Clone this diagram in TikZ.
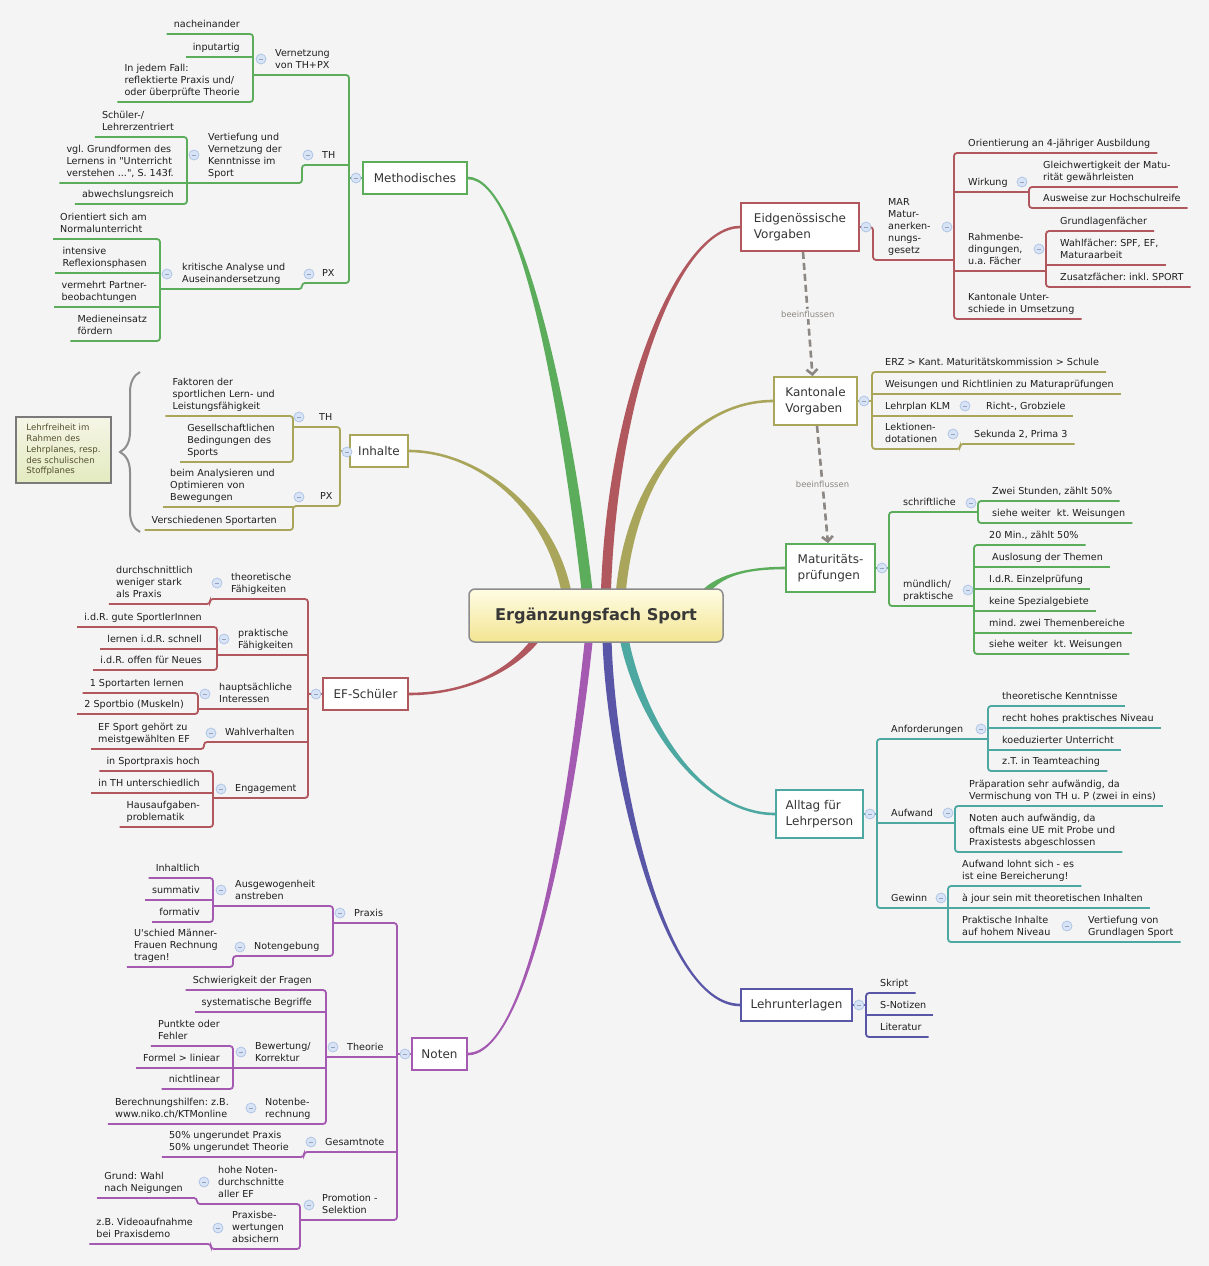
\documentclass[tikz,border=0pt]{standalone}
\usepackage{fontspec}
\setmainfont{DejaVu Sans}
\usetikzlibrary{calc,arrows.meta,positioning,decorations.pathreplacing}
\definecolor{bg}{HTML}{F4F4F4}
\definecolor{ink}{HTML}{1E1E1E}
\definecolor{boxink}{HTML}{353535}
\definecolor{grn}{HTML}{5BAD5B}
\definecolor{rdb}{HTML}{B0585E}
\definecolor{olv}{HTML}{A9A65B}
\definecolor{tea}{HTML}{4EA8A2}
\definecolor{ind}{HTML}{5956A8}
\definecolor{pur}{HTML}{A55AB2}
\definecolor{arrgray}{HTML}{8C8783}
\definecolor{bracegray}{HTML}{8E8E8E}
\definecolor{foldin}{HTML}{D8E4F6}
\definecolor{foldrim}{HTML}{ABC1E4}
\definecolor{roottop}{HTML}{FFFCE4}
\definecolor{rootbot}{HTML}{F3E592}
\definecolor{notetop}{HTML}{F5F5E6}
\definecolor{notebot}{HTML}{E3EBC0}
\newcommand\mmfont{\fontsize{9.6}{12}\selectfont}
\newcommand\fold[1]{\filldraw[fill=foldin,draw=foldrim,line width=.7pt] (#1) circle (5);
  \draw[foldrim!85!black,line width=.8pt] ($(#1)+(-2.3,0)$) -- ($(#1)+(2.3,0)$);}
\newcommand\limb[6]{\fill[#1] ($(#2)+(0,-1.3)$) .. controls ($(#3)+(0,-1.3)$) and ($(#4)+(#6,0)$) .. ($(#5)+(#6,0)$)
  -- ($(#5)-(#6,0)$) .. controls ($(#4)-(#6,0)$) and ($(#3)+(0,1.3)$) .. ($(#2)+(0,1.3)$) -- cycle;}
\pgfdeclarelayer{back}
\pgfsetlayers{back,main}
\frenchspacing
\tikzset{
  mline/.style={line width=1.8pt,rounded corners=3pt},
  lab/.style={inner ysep=0pt,align=left,font=\mmfont,text=ink,execute at end node={\rule[-6pt]{0pt}{6pt}}},
  ll/.style={lab,inner xsep=7pt,anchor=south east},
  rl/.style={lab,inner xsep=7pt,anchor=south west},
  pl/.style={lab,inner xsep=0pt,anchor=south west},
  topic/.style={draw,line width=1.8pt,fill=white,inner xsep=8pt,align=left,text=boxink,font=\fontsize{12}{16.5}\selectfont},
  rootbox/.style={draw=black!45,line width=1.5pt,rounded corners=6pt,top color=roottop,bottom color=rootbot,
    minimum width=254,minimum height=53,font=\fontsize{16.2}{19}\selectfont\bfseries,text=black!78},
  notebox/.style={draw=black!52,line width=1.8pt,top color=notetop,bottom color=notebot,align=left,inner xsep=7pt,
    minimum width=95,minimum height=66,font=\fontsize{8.6}{10.7}\selectfont,text=black!55!olive},
  infl/.style={draw=arrgray,line width=2.6pt,dash pattern=on 7pt off 4pt,-{Straight Barb[length=5pt,width=11pt]}},
  infllbl/.style={fill=bg,text=arrgray,font=\fontsize{8.4}{9}\selectfont,inner sep=1.5pt},
  brc/.style={draw=bracegray,line width=2pt,decorate,decoration={brace,amplitude=20pt}}
}
\begin{document}
\begin{tikzpicture}[x=1pt,y=-1pt]
\useasboundingbox (0,0) rectangle (1209,1266);

% centre and main topics
\node[rootbox] (root) at (596,615.5) {Ergänzungsfach Sport};
\node[topic,draw=grn,minimum width=104,minimum height=32] (meth) at (415,178) {Methodisches};
\node[topic,draw=olv,minimum width=52,minimum height=32] (inh) at (379,451) {Inhalte};
\node[topic,draw=rdb,minimum width=85,minimum height=32] (efs) at (365.5,694) {EF-Schüler};
\node[topic,draw=pur,minimum width=55,minimum height=32] (noten) at (439.5,1054) {Noten};
\node[topic,draw=rdb,minimum width=118,minimum height=48] (eidg) at (800,227) {Eidgenössische\\Vorgaben};
\node[topic,draw=olv,minimum width=83,minimum height=48] (kant) at (815.5,401) {Kantonale\\Vorgaben};
\node[topic,draw=grn,minimum width=89,minimum height=48] (matp) at (830.5,568) {Maturitäts-\\prüfungen};
\node[topic,draw=tea,minimum width=87,minimum height=48] (allt) at (819.5,814) {Alltag für\\Lehrperson};
\node[topic,draw=ind,minimum width=111,minimum height=32] (lehu) at (796.5,1005) {Lehrunterlagen};

% Methodisches
\coordinate (mB) at (349,0); \coordinate (vnB) at (253,0); \coordinate (vtB) at (187,0); \coordinate (thS) at (302,0); \coordinate (kaB) at (160,0);
\node[pl] (vern) at (275,75) {Vernetzung\\von TH+PX};
\node[ll] (nach) at (247,34) {nacheinander};
\node[ll] (inpu) at (247,57) {inputartig};
\node[ll] (jede) at (247,102) {In jedem Fall:\\reflektierte Praxis und/\\oder überprüfte Theorie};
\node[pl] (th1) at (322,165) {TH};
\node[pl] (vert) at (208,183) {Vertiefung und\\Vernetzung der\\Kenntnisse im\\Sport};
\node[ll] (schu) at (181,137) {Schüler-/\\Lehrerzentriert};
\node[ll] (vgl) at (181,183) {vgl. Grundformen des\\Lernens in \textquotedbl Unterricht\\verstehen ...\textquotedbl, S. 143f.};
\node[ll] (abwe) at (181,204) {abwechslungsreich};
\node[pl] (px1) at (322,283) {PX};
\node[pl] (krit) at (182,289) {kritische Analyse und\\Auseinandersetzung};
\node[ll] (orie) at (154,239) {Orientiert sich am\\Normalunterricht};
\node[ll] (inte) at (154,273) {intensive\\Reflexionsphasen};
\node[ll] (verm) at (154,307) {vermehrt Partner-\\beobachtungen};
\node[ll] (medi) at (154,341) {Medieneinsatz\\fördern};
\draw[mline,grn] (nach.south west) -- (vnB |- nach.south) -- (vnB |- jede.south) -- (jede.south west);
\draw[mline,grn] (inpu.south west) -- (vnB |- inpu.south);
\draw[mline,grn] (vnB |- vern.south) -- (mB |- vern.south) -- (mB |- px1.south) -- (thS |- px1.south) -- (thS |- krit.south) -- (kaB |- krit.south);
\draw[mline,grn] (mB |- th1.south) -- (thS |- th1.south) -- (thS |- vert.south) -- (vgl.south west);
\draw[mline,grn] (mB |- meth.west) -- (meth.west);
\draw[mline,grn] (schu.south west) -- (vtB |- schu.south) -- (vtB |- abwe.south) -- (abwe.south west);
\draw[mline,grn] (orie.south west) -- (kaB |- orie.south) -- (kaB |- medi.south) -- (medi.south west);
\draw[mline,grn] (inte.south west) -- (kaB |- inte.south) (verm.south west) -- (kaB |- verm.south);

% Inhalte
\coordinate (iB) at (340,0); \coordinate (itB) at (293,0);
\node[pl] (th2) at (319,427) {TH};
\node[ll] (fakt) at (282,416) {Faktoren der\\sportlichen Lern- und\\Leistungsfähigkeit};
\node[ll] (gese) at (282,462) {Gesellschaftlichen\\Bedingungen des\\Sports};
\node[pl] (px2) at (320,506) {PX};
\node[ll] (bewe) at (282,507) {beim Analysieren und\\Optimieren von\\Bewegungen};
\node[ll] (sart) at (284,530) {Verschiedenen Sportarten};
\draw[mline,olv] (fakt.south west) -- (itB |- fakt.south) -- (itB |- gese.south) -- (gese.south west);
\draw[mline,olv] (itB |- th2.south) -- (iB |- th2.south) -- (iB |- px2.south) -- (itB |- px2.south) -- (itB |- sart.south) -- (sart.south west);
\draw[mline,olv] (bewe.south west) -- (itB |- bewe.south);
\draw[mline,olv] (iB |- inh.west) -- (inh.west);
\node[notebox] (frei) at (63.5,450) {Lehrfreiheit im\\Rahmen des\\Lehrplanes, resp.\\des schulischen\\Stoffplanes};
\draw[brc] (140,532) -- (140,372);

% EF-Schueler
\coordinate (eB) at (308,0); \coordinate (e1S) at (210,0); \coordinate (e2B) at (217,0); \coordinate (e3B) at (198,0); \coordinate (e4S) at (204,0); \coordinate (e5B) at (213,0);
\node[pl] (theo) at (231,599) {theoretische\\Fähigkeiten};
\node[ll] (durc) at (200,604) {durchschnittlich\\weniger stark\\als Praxis};
\node[pl] (prak) at (238,655) {praktische\\Fähigkeiten};
\node[ll] (gute) at (209,627) {i.d.R. gute SportlerInnen};
\node[ll] (lern) at (209,649) {lernen i.d.R. schnell};
\node[ll] (offe) at (209,670) {i.d.R. offen für Neues};
\node[pl] (haup) at (219,709) {hauptsächliche\\Interessen};
\node[ll] (spo1) at (191,693) {1 Sportarten lernen};
\node[ll] (spo2) at (191,714) {2 Sportbio (Muskeln)};
\node[pl] (wahl) at (225,742) {Wahlverhalten};
\node[ll] (efsp) at (197,749) {EF Sport gehört zu\\meistgewählten EF};
\node[pl] (enga) at (235,798) {Engagement};
\node[ll] (hoch) at (207,771) {in Sportpraxis hoch};
\node[ll] (unte) at (207,793) {in TH unterschiedlich};
\node[ll] (haus) at (207,827) {Hausaufgaben-\\problematik};
\draw[mline,rdb] (durc.south west) -- (e1S |- durc.south) -- (e1S |- theo.south) -- (eB |- theo.south) -- (eB |- enga.south) -- (e5B |- enga.south);
\draw[mline,rdb] (e2B |- prak.south) -- (eB |- prak.south) (e3B |- haup.south) -- (eB |- haup.south);
\draw[mline,rdb] (gute.south west) -- (e2B |- gute.south) -- (e2B |- offe.south) -- (offe.south west);
\draw[mline,rdb] (lern.south west) -- (e2B |- lern.south);
\draw[mline,rdb] (spo1.south west) -- (e3B |- spo1.south) -- (e3B |- spo2.south) -- (spo2.south west);
\draw[mline,rdb] (efsp.south west) -- (e4S |- efsp.south) -- (e4S |- wahl.south) -- (eB |- wahl.south);
\draw[mline,rdb] (hoch.south west) -- (e5B |- hoch.south) -- (e5B |- haus.south) -- (haus.south west);
\draw[mline,rdb] (unte.south west) -- (e5B |- unte.south);
\draw[mline,rdb] (eB |- efs.west) -- (efs.west);

% Noten
\coordinate (nB) at (397,0); \coordinate (prB) at (333,0); \coordinate (auB) at (213,0); \coordinate (ngS) at (233,0); \coordinate (thB) at (326,0);
\coordinate (bwB) at (233,0); \coordinate (gsS) at (304,0); \coordinate (poB) at (300,0); \coordinate (hoS) at (197,0); \coordinate (pbS) at (211,0);
\node[pl] (prax) at (354,923) {Praxis};
\node[pl] (ausg) at (235,906) {Ausgewogenheit\\anstreben};
\node[ll] (inha) at (207,878) {Inhaltlich};
\node[ll] (summ) at (207,900) {summativ};
\node[ll] (form) at (207,922) {formativ};
\node[pl] (noge) at (254,956) {Notengebung};
\node[ll] (usch) at (225,967) {U\textquotesingle schied Männer-\\Frauen Rechnung\\tragen!};
\node[pl] (theor) at (347,1057) {Theorie};
\node[ll] (schw) at (319,990) {Schwierigkeit der Fragen};
\node[ll] (syst) at (319,1012) {systematische Begriffe};
\node[pl] (bewk) at (255,1068) {Bewertung/\\Korrektur};
\node[ll] (punk) at (227,1046) {Puntkte oder\\Fehler};
\node[ll] (fmli) at (227,1068) {Formel > liniear};
\node[ll] (nicl) at (227,1089) {nichtlinear};
\node[pl] (nobe) at (265,1124) {Notenbe-\\rechnung};
\node[ll] (bere) at (236,1124) {Berechnungshilfen: z.B.\\www.niko.ch/KTMonline};
\node[pl] (gesa) at (325,1152) {Gesamtnote};
\node[ll] (proz) at (296,1157) {50\% ungerundet Praxis\\50\% ungerundet Theorie};
\node[pl] (prom) at (322,1220) {Promotion -\\Selektion};
\node[pl] (hohe) at (218,1204) {hohe Noten-\\durchschnitte\\aller EF};
\node[ll] (grun) at (190,1198) {Grund: Wahl\\nach Neigungen};
\node[pl] (prbe) at (232,1249) {Praxisbe-\\wertungen\\absichern};
\node[ll] (vide) at (200,1244) {z.B. Videoaufnahme\\bei Praxisdemo};
\draw[mline,pur] (prB |- prax.south) -- (nB |- prax.south) -- (nB |- prom.south) -- (poB |- prom.south);
\draw[mline,pur] (thB |- theor.south) -- (nB |- theor.south) (nB |- noten.west) -- (noten.west);
\draw[mline,pur] (proz.south west) -- (gsS |- proz.south) -- (gsS |- gesa.south) -- (nB |- gesa.south);
\draw[mline,pur] (auB |- ausg.south) -- (prB |- ausg.south) -- (prB |- noge.south) -- (ngS |- noge.south) -- (ngS |- usch.south) -- (usch.south west);
\draw[mline,pur] (inha.south west) -- (auB |- inha.south) -- (auB |- form.south) -- (form.south west);
\draw[mline,pur] (summ.south west) -- (auB |- summ.south);
\draw[mline,pur] (schw.south west) -- (thB |- schw.south) -- (thB |- nobe.south) -- (bere.south west);
\draw[mline,pur] (syst.south west) -- (thB |- syst.south) (bwB |- bewk.south) -- (thB |- bewk.south);
\draw[mline,pur] (punk.south west) -- (bwB |- punk.south) -- (bwB |- nicl.south) -- (nicl.south west);
\draw[mline,pur] (fmli.south west) -- (bwB |- fmli.south);
\draw[mline,pur] (grun.south west) -- (hoS |- grun.south) -- (hoS |- hohe.south) -- (poB |- hohe.south) -- (poB |- prbe.south) -- (pbS |- prbe.south) -- (pbS |- vide.south) -- (vide.south west);

% Eidgenoessische Vorgaben
\coordinate (egB) at (873,0); \coordinate (maB) at (954,0); \coordinate (wiB) at (1029,0); \coordinate (raB) at (1046,0);
\node[pl] (mar) at (888,260) {MAR\\Matur-\\anerken-\\nungs-\\gesetz};
\node[rl] (orin) at (961,153) {Orientierung an 4-jähriger Ausbildung};
\node[pl] (wirk) at (968,192) {Wirkung};
\node[rl] (glei) at (1036,187) {Gleichwertigkeit der Matu-\\rität gewährleisten};
\node[rl] (ausw) at (1036,208) {Ausweise zur Hochschulreife};
\node[pl] (rahm) at (968,271) {Rahmenbe-\\dingungen,\\u.a. Fächer};
\node[rl] (grla) at (1053,231) {Grundlagenfächer};
\node[rl] (wahf) at (1053,265) {Wahlfächer: SPF, EF,\\Maturaarbeit};
\node[rl] (zusa) at (1053,287) {Zusatzfächer: inkl. SPORT};
\node[rl] (kaun) at (961,319) {Kantonale Unter-\\schiede in Umsetzung};
\draw[mline,rdb] (eidg.east) -- (egB |- eidg.east) -- (egB |- mar.south) -- (maB |- mar.south);
\draw[mline,rdb] (orin.south east) -- (maB |- orin.south) -- (maB |- kaun.south) -- (kaun.south east);
\draw[mline,rdb] (wiB |- wirk.south) -- (maB |- wirk.south) (raB |- rahm.south) -- (maB |- rahm.south);
\draw[mline,rdb] (glei.south east) -- (wiB |- glei.south) -- (wiB |- ausw.south) -- (ausw.south east);
\draw[mline,rdb] (grla.south east) -- (raB |- grla.south) -- (raB |- zusa.south) -- (zusa.south east);
\draw[mline,rdb] (wahf.south east) -- (raB |- wahf.south);

% Kantonale Vorgaben
\coordinate (kvB) at (872,0); \coordinate (ldS) at (960,0);
\node[rl] (erz) at (878,372) {ERZ > Kant. Maturitätskommission > Schule};
\node[rl] (weis) at (878,394) {Weisungen und Richtlinien zu Maturaprüfungen};
\node[pl] (lehr) at (885,416) {Lehrplan KLM};
\node[rl] (rich) at (979,416) {Richt-, Grobziele};
\node[pl] (lekt) at (885,449) {Lektionen-\\dotationen};
\node[rl] (seku) at (967,444) {Sekunda 2, Prima 3};
\draw[mline,olv] (kant.east) -- (kvB |- kant.east);
\draw[mline,olv] (erz.south east) -- (kvB |- erz.south) -- (kvB |- lekt.south) -- (ldS |- lekt.south) -- (ldS |- seku.south) -- (seku.south east);
\draw[mline,olv] (weis.south east) -- (kvB |- weis.south) (kvB |- lehr.south) -- (rich.south east);

% Maturitaetspruefungen
\coordinate (mpB) at (889,0); \coordinate (scB) at (978,0); \coordinate (muB) at (974,0);
\node[pl] (schr) at (903,512) {schriftliche};
\node[rl] (zwei) at (985,501) {Zwei Stunden, zählt 50\%};
\node[rl] (sie1) at (985,523) {siehe weiter\ \ kt. Weisungen};
\node[pl] (muen) at (903,606) {mündlich/\\praktische};
\node[rl] (zwan) at (982,545) {20 Min., zählt 50\%};
\node[rl] (ausl) at (985,567) {Auslosung der Themen};
\node[rl] (einz) at (982,589) {I.d.R. Einzelprüfung};
\node[rl] (keis) at (982,611) {keine Spezialgebiete};
\node[rl] (mind) at (982,633) {mind. zwei Themenbereiche};
\node[rl] (sie2) at (982,654) {siehe weiter\ \ kt. Weisungen};
\draw[mline,grn] (matp.east) -- (mpB |- matp.east);
\draw[mline,grn] (scB |- schr.south) -- (mpB |- schr.south) -- (mpB |- muen.south) -- (muB |- muen.south);
\draw[mline,grn] (zwei.south east) -- (scB |- zwei.south) -- (scB |- sie1.south) -- (sie1.south east);
\draw[mline,grn] (zwan.south east) -- (muB |- zwan.south) -- (muB |- sie2.south) -- (sie2.south east);
\draw[mline,grn] (ausl.south east) -- (muB |- ausl.south) (einz.south east) -- (muB |- einz.south)
  (keis.south east) -- (muB |- keis.south) (mind.south east) -- (muB |- mind.south);

% Alltag fuer Lehrperson
\coordinate (alB) at (877,0); \coordinate (anB) at (988,0); \coordinate (afB) at (955,0); \coordinate (gwB) at (948,0);
\node[pl] (anfo) at (891,739) {Anforderungen};
\node[rl] (thkn) at (995,706) {theoretische Kenntnisse};
\node[rl] (rech) at (995,728) {recht hohes praktisches Niveau};
\node[rl] (koed) at (995,750) {koeduzierter Unterricht};
\node[rl] (team) at (995,771) {z.T. in Teamteaching};
\node[pl] (aufw) at (891,823) {Aufwand};
\node[rl] (prae) at (962,806) {Präparation sehr aufwändig, da\\Vermischung von TH u. P (zwei in eins)};
\node[rl] (noau) at (962,852) {Noten auch aufwändig, da\\oftmals eine UE mit Probe und\\Praxistests abgeschlossen};
\node[pl] (gewi) at (891,908) {Gewinn};
\node[rl] (lohn) at (955,886) {Aufwand lohnt sich - es\\ist eine Bereicherung!};
\node[rl] (ajou) at (955,908) {à jour sein mit theoretischen Inhalten};
\node[pl] (prin) at (962,942) {Praktische Inhalte\\auf hohem Niveau};
\node[rl] (vgsp) at (1081,942) {Vertiefung von\\Grundlagen Sport};
\draw[mline,tea] (allt.east) -- (alB |- allt.east);
\draw[mline,tea] (anB |- anfo.south) -- (alB |- anfo.south) -- (alB |- gewi.south) -- (gwB |- gewi.south);
\draw[mline,tea] (afB |- aufw.south) -- (alB |- aufw.south);
\draw[mline,tea] (thkn.south east) -- (anB |- thkn.south) -- (anB |- team.south) -- (team.south east);
\draw[mline,tea] (rech.south east) -- (anB |- rech.south) (koed.south east) -- (anB |- koed.south);
\draw[mline,tea] (prae.south east) -- (afB |- prae.south) -- (afB |- noau.south) -- (noau.south east);
\draw[mline,tea] (lohn.south east) -- (gwB |- lohn.south) -- (gwB |- prin.south) -- (vgsp.south east);
\draw[mline,tea] (ajou.south east) -- (gwB |- ajou.south);

% Lehrunterlagen
\coordinate (luB) at (866,0);
\node[rl] (skri) at (873,993) {Skript};
\node[rl] (snot) at (873,1015) {S-Notizen};
\node[rl] (lite) at (873,1037) {Literatur};
\draw[mline,ind] (lehu.east) -- (luB |- lehu.east);
\draw[mline,ind] (skri.south east) -- (luB |- skri.south) -- (luB |- lite.south) -- (lite.south east);
\draw[mline,ind] (snot.south east) -- (luB |- snot.south);

% influence arrows
\draw[infl] ([xshift=3pt]eidg.south) -- node[infllbl] (inf1) {beeinflussen} ([xshift=-3pt]kant.north);
\draw[infl] ([xshift=1.5pt]kant.south) -- node[infllbl] (inf2) {beeinflussen} ([xshift=-2.5pt]matp.north);

% background and main branches
\begin{pgfonlayer}{back}
\fill[bg] (0,0) rectangle (1209,1266);
\limb{grn}{meth.east}{520,178}{565,400}{587,590}{5.5}
\limb{rdb}{eidg.west}{680,227}{613,390}{606,590}{-5}
\limb{olv}{inh.east}{475,451}{548,505}{566,590}{5}
\limb{olv}{kant.west}{700,401}{633,470}{621,590}{-5}
\limb{grn}{matp.west}{750,568}{722,574}{706,591}{-4.5}
\limb{rdb}{efs.east}{470,694}{515,668}{537,638}{-4.5}
\limb{pur}{noten.east}{530,1054}{572,800}{589,638}{-4}
\limb{ind}{lehu.west}{660,1005}{610,760}{607,638}{4.5}
\limb{tea}{allt.west}{700,814}{640,720}{624,638}{4.5}
\end{pgfonlayer}

% fold markers
\fold{356,178} \fold{261,59} \fold{308,155} \fold{194,155} \fold{309,274} \fold{167,274}
\fold{347,452} \fold{299,417} \fold{299,497}
\fold{316,694} \fold{217,583} \fold{224,639} \fold{205,694} \fold{211,733} \fold{221,789}
\fold{405,1054} \fold{340,913} \fold{221,890} \fold{240,947} \fold{333,1047} \fold{241,1052} \fold{251,1108} \fold{311,1142} \fold{309,1205} \fold{204,1182} \fold{218,1228}
\fold{866,227} \fold{947,227} \fold{1022,182} \fold{1039,249}
\fold{864,401} \fold{965,406} \fold{953,434}
\fold{882,568} \fold{971,503} \fold{968,590}
\fold{870,814} \fold{981,729} \fold{948,813} \fold{941,898} \fold{1067,926}
\fold{859,1005}
\end{tikzpicture}
\end{document}
